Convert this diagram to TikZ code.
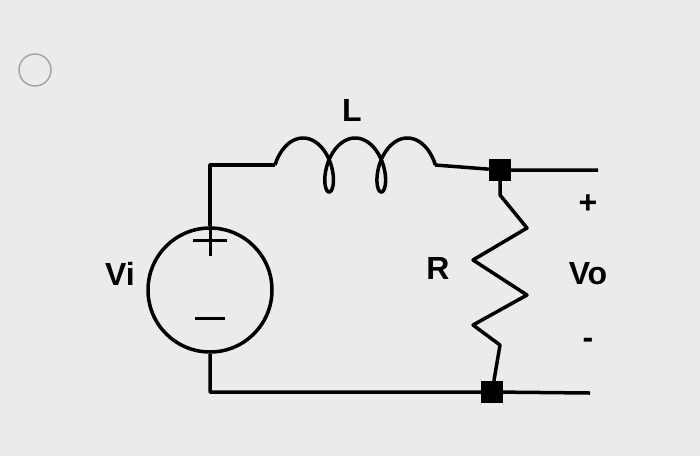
\documentclass[tikz,border=0pt]{standalone}
\usepackage{fontspec}
\setmainfont{Liberation Sans}
\begin{document}
\begin{tikzpicture}[x=1pt,y=-1pt,
  wire/.style={line width=3.5pt,black,line join=round},
  lbl/.style={font=\bfseries\fontsize{32}{36}\selectfont},
  sq/.style={fill=black,minimum size=22pt,inner sep=0pt}]
\fill[black!8] (0,0) rectangle (700,456);
\useasboundingbox (0,0) rectangle (700,456);
\node[circle,draw=gray!70,line width=1.5pt,minimum size=32pt,inner sep=0pt] (radio) at (35,70) {};
\node[circle,draw,line width=3.5pt,minimum size=124pt,inner sep=0pt] (src) at (210,290) {};
\draw[line width=3pt] (193,240) -- (227,240) (210,224) -- (210,256);
\draw[line width=3pt] (195,318) -- (225,318);
\node[sq] (t1) at (500,170) {};
\node[sq] (t2) at (492,392) {};
\coordinate (o1) at (598,170);
\coordinate (o2) at (590,393);
\coordinate (ls) at (275,165);
\coordinate (le) at (435,165);
\draw[wire] (src.north) |- (ls);
\draw[wire,variable=\t,samples=200,domain=90:990] plot ({275+8.3*(\t*pi/180-pi/2)-15*sin(\t)+15},{165+27*cos(\t)});
\draw[wire] (le) -- (t1) -- (o1);
\draw[wire] (t1) -- (500,195) -- (527,228) -- (473,260) -- (527,295) -- (473,325) -- (500,345) -- (t2);
\draw[wire] (src.south) |- (t2) -- (o2);
\node[lbl] (L) at (352,110) {L};
\node[lbl] (R) at (438,268) {R};
\node[lbl] (Vi) at (120,274) {Vi};
\node[lbl] (Vo) at (588,274) {Vo};
\node[lbl] (p) at (588,204) {+};
\node[lbl] (m) at (588,343) {-};
\end{tikzpicture}
\end{document}
